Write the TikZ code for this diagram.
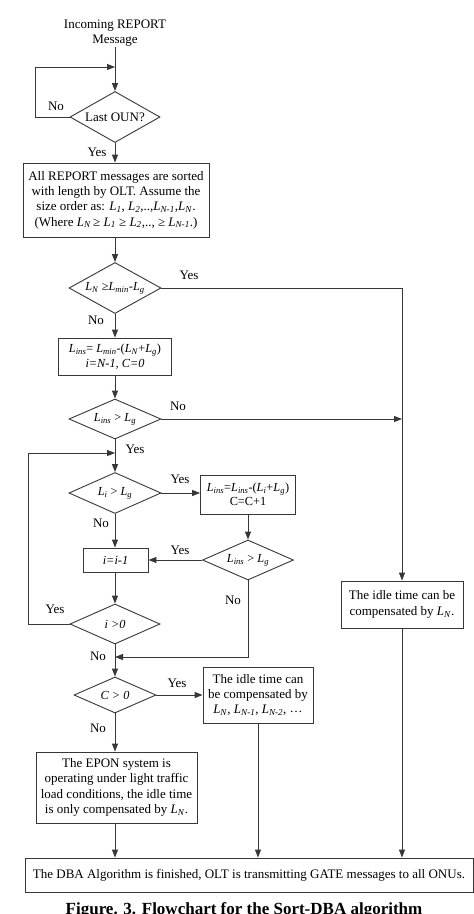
\documentclass[tikz,border=0pt]{standalone}
\usepackage{fontspec}
\setmainfont{Liberation Serif}
\usetikzlibrary{arrows.meta,shapes.geometric}
\newcommand\Ls[1]{\textit{L}\textsubscript{\textit{#1}}}
\definecolor{lc}{RGB}{55,55,55}
\begin{document}
\begin{tikzpicture}[x=1pt,y=-1pt,
  every node/.style={font=\fontsize{13}{15.3}\selectfont, text=black},
  box/.style={draw=lc, line width=0.9pt, align=center, inner sep=0pt},
  dia/.style={draw=lc, line width=0.9pt, diamond, inner sep=0pt, align=center},
  small/.style={font=\fontsize{12.3}{14.5}\selectfont},
  arr/.style={draw=lc, line width=0.9pt, -{Triangle[length=8pt,width=6pt]}},
  ln/.style={draw=lc, line width=0.9pt},
  lab/.style={inner sep=0pt}]
\clip (0,0) rectangle (474,914);
\fill[white] (0,0) rectangle (474,914);

% nodes
\node[align=center, inner sep=0pt] (in) at (115,33) {Incoming REPORT\\Message};
\node[dia, minimum width=90pt, minimum height=51pt, aspect=1.76] (d1) at (115,117) {Last OUN?};
\node[box, minimum width=186pt, minimum height=74pt] (b1) at (116,200)
  {All REPORT messages are sorted\\ with length by OLT. Assume the\\ size order as: \Ls{1}, \Ls{2},..,\Ls{N-1},\Ls{N}.\\ (Where \Ls{N}\,≥ \Ls{1} ≥ \Ls{2},.., ≥ \Ls{N-1}.)};
\node[dia, small, minimum width=92pt, minimum height=51pt, aspect=1.8] (d2) at (115,288) {\Ls{N} ≥\Ls{min}-\Ls{g}};
\node[box, small, minimum width=113pt, minimum height=37pt] (b2) at (115,356.5)
  {\Ls{ins}= \Ls{min}-(\Ls{N}+\Ls{g})\\ \textit{i=N-1, C=0}};
\node[dia, small, minimum width=92pt, minimum height=40pt, aspect=2.3] (d3) at (115,419) {\Ls{ins} > \Ls{g}};
\node[dia, small, minimum width=92pt, minimum height=41pt, aspect=2.25] (d4) at (115,493) {\Ls{i} > \Ls{g}};
\node[box, small, minimum width=95pt, minimum height=39pt] (b3) at (248,494.5)
  {\Ls{ins}=\Ls{ins}-(\Ls{i}+\Ls{g})\\ C=C+1};
\node[box, small, minimum width=65pt, minimum height=24pt] (b4) at (115.5,560) {\textit{i=i-1}};
\node[dia, small, minimum width=91pt, minimum height=40pt, aspect=2.27] (d5) at (248,560) {\Ls{ins} > \Ls{g}};
\node[dia, small, minimum width=90pt, minimum height=40pt, aspect=2.25] (d6) at (115,624) {\textit{i >0}};
\node[dia, small, minimum width=82pt, minimum height=36pt, aspect=2.28] (d7) at (115,695) {\textit{C > 0}};
\node[box, minimum width=110pt, minimum height=56pt] (b5) at (258,695)
  {The idle time can\\ be compensated by\\ \Ls{N}, \Ls{N-1}, \Ls{N-2}, \raisebox{0.3ex}{…}};
\node[box, minimum width=161pt, minimum height=71pt] (b6) at (116.5,787.5)
  {The EPON system is\\ operating under light traffic\\ load conditions, the idle time\\ is only compensated by \Ls{N}.};
\node[box, minimum width=122pt, minimum height=47pt] (b7) at (402,604.5)
  {The idle time can be\\ compensated by \Ls{N}.};
\node[box, minimum width=448pt, minimum height=34pt] (b8) at (249,875)
  {The DBA Algorithm is finished, OLT is transmitting GATE messages to all ONUs.};
\node[inner sep=0pt, anchor=north, font=\fontsize{17}{20}\selectfont\bfseries] (cap) at (244,902)
  {Figure. 3. Flowchart for the Sort-DBA algorithm};

% coordinates
\coordinate (c1) at (35,117);
\coordinate (j1) at (115,67);
\coordinate (c2) at (28,624);
\coordinate (j2) at (115,453);
\coordinate (j3) at (115,657);
\coordinate (r3) at (402,419);

% connectors
\draw[arr] (in.south) -- (d1.north);
\draw[arr] (d1.west) -- (c1) |- (j1);
\draw[arr] (d1.south) -- (b1.north -| d1.south);
\draw[arr] (b1.south -| d2.north) -- (d2.north);
\draw[arr] (d2.south) -- (b2.north -| d2.south);
\draw[arr] (d2.east) -| (b7.north);
\draw[arr] (b2.south -| d3.north) -- (d3.north);
\draw[arr] (d3.east) -- (r3);
\draw[arr] (d3.south) -- (d4.north);
\draw[arr] (d4.east) -- (d4.east -| b3.west);
\draw[arr] (b3.south) -- (d5.north);
\draw[arr] (d4.south) -- (b4.north -| d4.south);
\draw[arr] (d5.west) -- (b4.east);
\draw[arr] (b4.south -| d6.north) -- (d6.north);
\draw[arr] (d6.west) -- (c2) |- (j2);
\draw[arr] (d5.south) |- (j3);
\draw[arr] (d6.south) -- (d7.north);
\draw[arr] (d7.east) -- (b5.west);
\draw[arr] (d7.south) -- (b6.north -| d7.south);
\draw[arr] (b6.south -| d7.south) -- (b8.north -| d7.south);
\draw[arr] (b5.south) -- (b8.north -| b5.south);
\draw[arr] (b7.south) -- (b8.north -| b7.south);

% labels
\node[lab] (l1) at (56,106) {No};
\node[lab] (l2) at (97,152) {Yes};
\node[lab] (l3) at (189,275) {Yes};
\node[lab] (l4) at (96,320) {No};
\node[lab] (l5) at (178,406) {No};
\node[lab] (l6) at (135,449) {Yes};
\node[lab] (l7) at (180,479) {Yes};
\node[lab] (l8) at (101,523) {No};
\node[lab] (l9) at (180,550) {Yes};
\node[lab] (l10) at (233,600) {No};
\node[lab] (l11) at (55,609) {Yes};
\node[lab] (l12) at (98,656) {No};
\node[lab] (l13) at (177,683) {Yes};
\node[lab] (l14) at (98,728) {No};
\end{tikzpicture}
\end{document}
